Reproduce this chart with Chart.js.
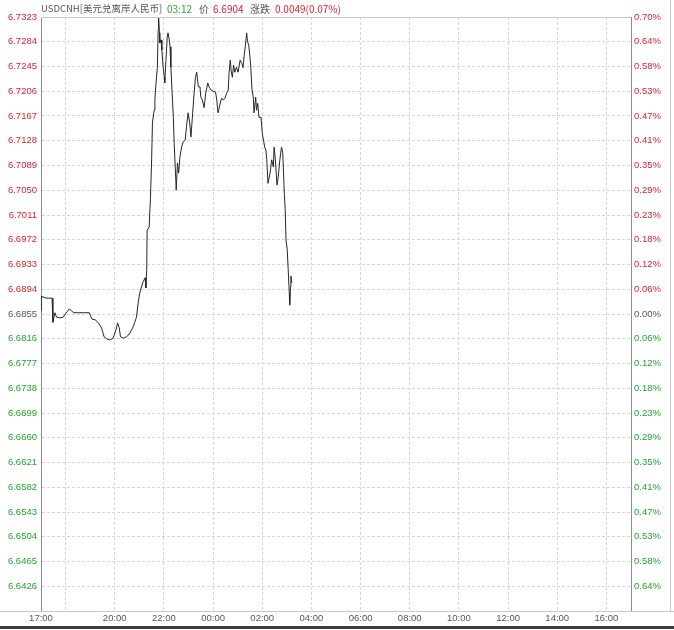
<!DOCTYPE html>
<html>
<head>
<meta charset="utf-8">
<script src="https://cdn.jsdelivr.net/npm/chart.js@4/dist/chart.umd.min.js"></script>
<style>
    html, body { margin: 0; padding: 0; background: #fff; }
    #wrap { position: relative; width: 674px; height: 630px; overflow: hidden; }
    #quote span { position: absolute; top: 2px; font-family: "Noto Sans CJK SC", "Liberation Sans", sans-serif; font-size: 10px; line-height: 13px; white-space: nowrap; }
    #quote span.title { font-size: 9.5px; }
    .gray { color: #555; }
    .red { color: #e0202f; }
    .green { color: #22a32c; }
    #bottomBar { position: absolute; left: 0; top: 626px; width: 674px; height: 3px; background: #3c3c3c; }
</style>
</head>
<body>
<div id="wrap">
    <canvas id="lineChart" width="674" height="630"></canvas>
    <div id="quote">
        <span class="gray title" style="left:41px">USDCNH[美元兑离岸人民币]</span>
        <span class="green" style="left:167px">03:12</span>
        <span class="gray" style="left:199px">价</span>
        <span class="red" style="left:213px">6.6904</span>
        <span class="gray" style="left:250px">涨跌</span>
        <span class="red" style="left:275px">0.0049(0.07%)</span>
    </div>
    <div id="bottomBar"></div>
</div>
<script>
// minutes after 17:00 and last price for each sampled minute
const minutes = [0, 1, 12, 27, 29, 34, 38, 46, 54, 63, 69, 75, 79, 91, 103, 118, 124, 132, 140, 148,
    154, 160, 168, 176, 183, 187, 191, 194, 201, 209, 217, 225, 229, 233, 237, 241, 248, 254, 256, 258,
    259, 264, 267, 270, 272, 276, 278, 280, 284, 286, 287, 289, 290, 293, 295, 298, 301, 302, 305, 308,
    310, 313, 315, 317, 320, 323, 325, 329, 330, 333, 336, 339, 343, 347, 352, 355, 359, 363, 366, 369,
    373, 377, 380, 384, 388, 390, 394, 398, 402, 407, 410, 415, 420, 426, 429, 432, 435, 438, 441, 445,
    449, 453, 457, 459, 462, 464, 467, 470, 473, 477, 481, 486, 490, 493, 496, 499, 502, 504, 507, 510,
    512, 515, 518, 520, 524, 526, 529, 532, 537, 540, 543, 546, 549, 551, 554, 559, 563, 567, 569, 572,
    576, 579, 583, 587, 590, 592, 594, 596, 598, 601, 603, 606, 607, 609, 610, 612];
const prices = [6.6861, 6.6883, 6.6880, 6.6880, 6.6842, 6.6857, 6.6850, 6.6849, 6.6850, 6.6858, 6.6863, 6.6860, 6.6857, 6.6857, 6.6857, 6.6857, 6.6847, 6.6846, 6.6841, 6.6833,
    6.6819, 6.6816, 6.6814, 6.6817, 6.6830, 6.6841, 6.6833, 6.6819, 6.6817, 6.6819, 6.6825, 6.6835, 6.6842, 6.6850, 6.6872, 6.6888, 6.6904, 6.6912, 6.6896, 6.6924,
    6.6987, 6.6992, 6.7035, 6.7098, 6.7156, 6.7176, 6.7192, 6.7213, 6.7244, 6.7303, 6.7323, 6.7298, 6.7282, 6.7287, 6.7271, 6.7244, 6.7228, 6.7219, 6.7255, 6.7291,
    6.7298, 6.7287, 6.7276, 6.7244, 6.7203, 6.7165, 6.7124, 6.7066, 6.7050, 6.7093, 6.7077, 6.7102, 6.7118, 6.7126, 6.7129, 6.7150, 6.7172, 6.7156, 6.7134, 6.7161,
    6.7197, 6.7228, 6.7236, 6.7213, 6.7213, 6.7197, 6.7192, 6.7180, 6.7203, 6.7219, 6.7213, 6.7208, 6.7206, 6.7205, 6.7192, 6.7172, 6.7180, 6.7189, 6.7195, 6.7192,
    6.7195, 6.7203, 6.7208, 6.7235, 6.7255, 6.7239, 6.7228, 6.7247, 6.7236, 6.7244, 6.7236, 6.7255, 6.7250, 6.7243, 6.7263, 6.7279, 6.7298, 6.7284, 6.7279, 6.7260,
    6.7244, 6.7208, 6.7197, 6.7172, 6.7197, 6.7176, 6.7187, 6.7165, 6.7165, 6.7140, 6.7129, 6.7118, 6.7113, 6.7098, 6.7061, 6.7077, 6.7098, 6.7087, 6.7118, 6.7098,
    6.7058, 6.7071, 6.7098, 6.7118, 6.7109, 6.7077, 6.7043, 6.7019, 6.6972, 6.6956, 6.6929, 6.6888, 6.6869, 6.6898, 6.6915, 6.6904];

const prevClose = 6.6855;
const priceMin = 6.6387;
const priceMax = 6.7323;
const priceTickLabels = ["6.7323", "6.7284", "6.7245", "6.7206", "6.7167", "6.7128", "6.7089", "6.7050",
    "6.7011", "6.6972", "6.6933", "6.6894", "6.6855", "6.6816", "6.6777", "6.6738", "6.6699", "6.6660",
    "6.6621", "6.6582", "6.6543", "6.6504", "6.6465", "6.6426"];
const pctTickLabels = ["0.70%", "0.64%", "0.58%", "0.53%", "0.47%", "0.41%", "0.35%", "0.29%",
    "0.23%", "0.18%", "0.12%", "0.06%", "0.00%", "0.06%", "0.12%", "0.18%", "0.23%", "0.29%",
    "0.35%", "0.41%", "0.47%", "0.53%", "0.58%", "0.64%"];
const timeTickMinutes = [0, 60, 180, 300, 420, 540, 660, 780, 900, 1020, 1140, 1260, 1380];
const timeTickLabels = ["17:00", "", "20:00", "22:00", "00:00", "02:00", "04:00", "06:00", "08:00", "10:00", "12:00", "14:00", "16:00"];

const RED = "#e0202f";
const GREEN = "#22a32c";
const GRAY = "#555";
const tickFont = { family: "'Liberation Sans', sans-serif", size: 9.5 };

function tickColor(ctx) {
    const v = ctx.tick.value;
    if (Math.abs(v - prevClose) < 1e-6) return GRAY;
    return v > prevClose ? RED : GREEN;
}

const priceTicks = priceTickLabels.map(Number);

// frame lines around the plot, like the terminal draws them
const framePlugin = {
    id: "frame",
    afterDraw(chart) {
        const { ctx, chartArea } = chart;
        ctx.save();
        ctx.strokeStyle = "#c8c8c8";
        ctx.lineWidth = 1;
        ctx.beginPath();
        ctx.moveTo(chartArea.left, Math.round(chartArea.top) + 0.5);
        ctx.lineTo(chartArea.right, Math.round(chartArea.top) + 0.5);
        ctx.moveTo(0, Math.round(chartArea.bottom) + 0.5);
        ctx.lineTo(chart.width, Math.round(chartArea.bottom) + 0.5);
        ctx.moveTo(670.5, 0);
        ctx.lineTo(670.5, chartArea.bottom);
        ctx.stroke();
        ctx.restore();
    }
};

const ctx = document.getElementById("lineChart").getContext("2d");
const chartInstance = new Chart(ctx, {
    type: "line",
    data: {
        datasets: [{
            data: minutes.map((m, i) => ({ x: m, y: prices[i] })),
            borderColor: "#262626",
            borderWidth: 1,
            pointRadius: 0,
            tension: 0,
            fill: false,
            yAxisID: "y"
        }]
    },
    plugins: [framePlugin],
    options: {
        responsive: false,
        animation: false,
        layout: { padding: { top: 17, left: 0, right: 0, bottom: 0 } },
        plugins: { legend: { display: false }, tooltip: { enabled: false } },
        scales: {
            x: {
                type: "linear",
                min: 0,
                max: 1440,
                afterBuildTicks: s => { s.ticks = timeTickMinutes.map(v => ({ value: v })); },
                afterFit: s => { s.height = 19; },
                grid: { color: "#d6d6d6", drawTicks: false },
                border: { display: true, color: "#c8c8c8", dash: [3, 2] },
                ticks: {
                    autoSkip: false,
                    maxRotation: 0,
                    padding: 2,
                    color: GRAY,
                    font: tickFont,
                    callback: (v, i) => timeTickLabels[i]
                }
            },
            y: {
                position: "left",
                min: priceMin,
                max: priceMax,
                afterBuildTicks: s => { s.ticks = priceTicks.map(v => ({ value: v })); },
                afterFit: s => { s.width = 41; },
                grid: { color: "#d6d6d6", drawTicks: false },
                border: { display: true, color: "#8c8c8c", dash: [3, 2] },
                ticks: {
                    autoSkip: false,
                    padding: 4,
                    color: tickColor,
                    font: tickFont,
                    callback: (v, i) => priceTickLabels[i]
                }
            },
            y2: {
                position: "right",
                min: priceMin,
                max: priceMax,
                afterBuildTicks: s => { s.ticks = priceTicks.map(v => ({ value: v })); },
                afterFit: s => { s.width = 43; },
                grid: { display: false, drawTicks: false },
                border: { display: true, color: "#8c8c8c" },
                ticks: {
                    autoSkip: false,
                    padding: 3,
                    color: tickColor,
                    font: tickFont,
                    callback: (v, i) => pctTickLabels[i]
                }
            }
        }
    }
});
</script>
</body>
</html>
